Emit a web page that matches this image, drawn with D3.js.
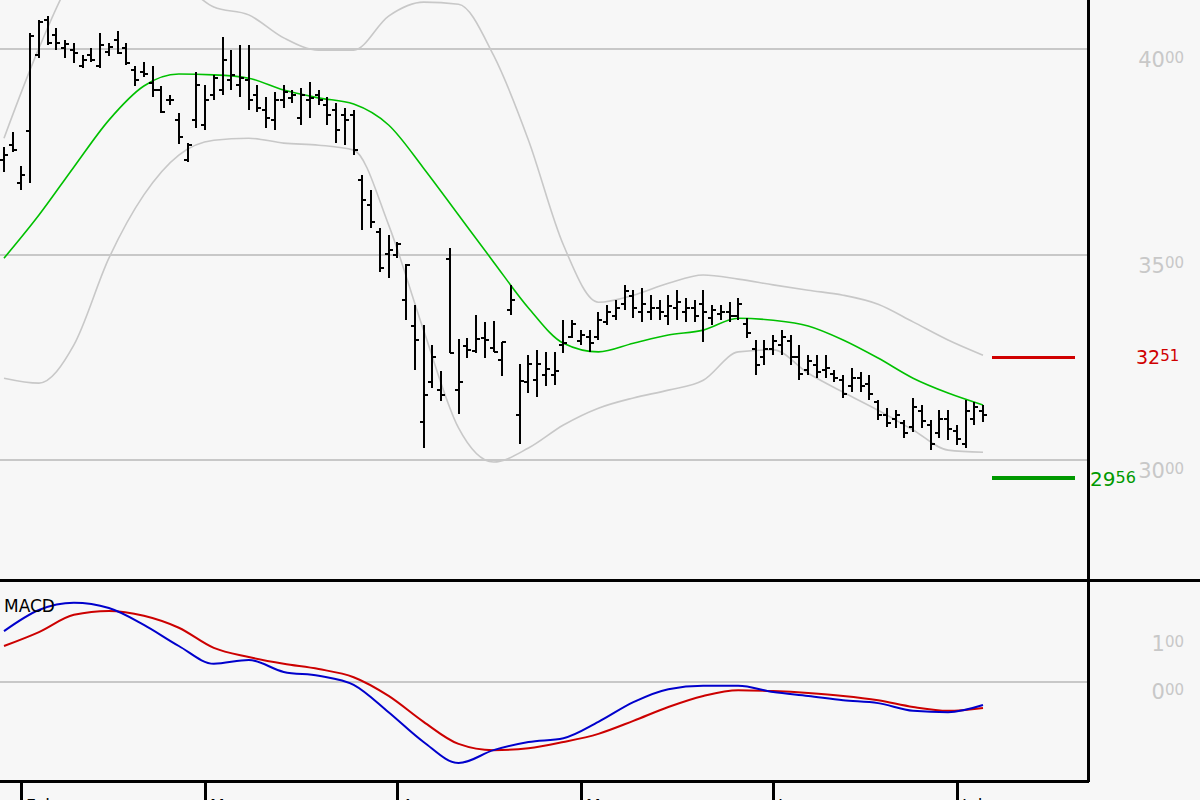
<!DOCTYPE html>
<html>
<head>
<meta charset="utf-8">
<script src="https://cdn.jsdelivr.net/npm/d3@7"></script>
<style>
  body { margin: 0; background: #f7f7f7; overflow: hidden; }
</style>
</head>
<body>
<div id="chart"></div>
<script>
// daily bars
var opens = [3730,3766,3674,3800,3985,4070,4034,4002,3997,3958,3985,3958,3992,4022,4002,3949,3944,3917,3900,3876,3827,3730,
  3827,3815,3888,3900,3924,3912,3924,3888,3851,3827,3876,3881,3832,3876,3888,3864,3851,3839,3839,3681,3620,
  3555,3501,3499,3389,3326,3092,3190,3170,3489,3170,3277,3265,3297,3272,3243,3365,3109,3190,3195,3207,3207,3280,
  3300,3290,3300,3300,3335,3350,3380,3400,3360,3360,3370,3350,3370,3360,3370,3380,3345,3355,3360,3350,3330,3270,
  3250,3270,3280,3290,3250,3220,3230,3220,3210,3195,3180,3200,3185,3140,3110,3100,3090,3080,3120,3085,3065,3100,
  3070,3040,3100,3120];
var highs = [3761,3798,3715,4039,4070,4080,4051,4022,4014,3985,4002,4039,4014,4044,4014,3958,3968,3958,3910,3888,3844,3771,
  3944,3912,3937,4029,3997,4009,4009,3912,3883,3895,3912,3900,3905,3919,3900,3883,3868,3856,3851,3693,3657,
  3564,3547,3530,3477,3377,3328,3280,3216,3516,3294,3297,3353,3336,3338,3287,3426,3233,3255,3268,3263,3263,3340,
  3340,3316,3316,3360,3377,3389,3426,3413,3418,3401,3389,3401,3413,3394,3389,3413,3377,3377,3384,3394,3345,3292,
  3292,3304,3316,3304,3280,3255,3255,3255,3219,3207,3224,3214,3207,3146,3126,3121,3097,3151,3134,3097,3121,3121,
  3085,3146,3141,3134];
var lows = [3700,3749,3657,3674,3978,4009,3997,3978,3966,3954,3968,3954,3983,3988,3961,3910,3932,3883,3844,3864,3769,3725,
  3808,3803,3876,3888,3900,3883,3851,3847,3808,3803,3856,3868,3815,3832,3864,3815,3771,3766,3742,3559,3564,
  3457,3443,3491,3340,3219,3029,3175,3143,3260,3112,3248,3260,3248,3263,3204,3353,3039,3163,3153,3180,3182,3260,
  3297,3280,3263,3292,3328,3340,3365,3345,3336,3340,3340,3328,3340,3336,3336,3287,3328,3340,3336,3340,3297,3207,
  3231,3255,3255,3231,3194,3207,3199,3199,3190,3151,3165,3165,3146,3097,3080,3078,3053,3068,3078,3024,3053,3049,
  3036,3029,3085,3092];
var closes = [3742,3754,3693,4031,4065,4014,4014,4012,3990,3973,3973,4009,4005,3990,3966,3924,3939,3900,3847,3876,3786,3766,
  3912,3876,3929,3973,3937,3929,3876,3856,3832,3876,3895,3888,3888,3881,3876,3839,3803,3827,3754,3633,3579,
  3467,3511,3525,3474,3292,3158,3250,3158,3260,3190,3268,3294,3292,3263,3287,3389,3192,3233,3233,3221,3216,3284,
  3330,3305,3285,3340,3360,3370,3410,3370,3380,3370,3360,3375,3385,3370,3350,3360,3365,3360,3350,3380,3310,3230,
  3270,3290,3300,3250,3210,3240,3215,3225,3200,3160,3200,3180,3160,3110,3090,3110,3065,3130,3095,3040,3100,3075,
  3050,3120,3130,3110];

// indicator lines, sampled every 4 bars
var sampleIdx = [0,4,8,12,16,20,24,28,32,36,40,44,48,52,56,60,64,68,72,76,80,84,88,92,96,100,104,108,112];
var movingAvg = [3491,3596,3713,3827,3910,3939,3937,3929,3900,3881,3866,3815,3710,3596,3482,3370,3284,3263,3284,3304,
  3316,3345,3340,3326,3292,3248,3199,3163,3134];
var upperBand = [3783,4002,4180,4241,4228,4168,4102,4083,4027,3997,3997,4080,4114,4109,3985,3778,3523,3384,3401,3430,
  3450,3440,3426,3413,3401,3379,3336,3292,3255];
var lowerBand = [3199,3187,3280,3491,3645,3742,3778,3783,3771,3766,3754,3572,3316,3078,2995,3029,3085,3126,3151,3170,
  3194,3263,3268,3211,3165,3121,3073,3024,3019];
var macdLine = [1.06,1.50,1.65,1.54,1.19,0.75,0.38,0.46,0.21,0.13,-0.06,-0.63,-1.25,-1.69,-1.42,-1.25,-1.17,-0.83,-0.42,
  -0.15,-0.08,-0.08,-0.21,-0.29,-0.38,-0.44,-0.60,-0.63,-0.48];
var signalLine = [0.75,1.04,1.40,1.48,1.38,1.13,0.71,0.52,0.38,0.27,0.10,-0.29,-0.83,-1.29,-1.42,-1.38,-1.25,-1.08,-0.81,
  -0.52,-0.29,-0.17,-0.19,-0.23,-0.29,-0.38,-0.52,-0.60,-0.54];

var priceTicks = [[4000, "40", "00"], [3500, "35", "00"], [3000, "30", "00"]];
var macdTicks = [[1, "1", "00"], [0, "0", "00"]];
var monthTicks = [2, 23, 45, 66, 88, 109];
var monthLabels = ["Feb", "Mar", "Apr", "May", "Jun", "Jul"];
var levelHigh = [3251, "32", "51"];
var levelLow = [2956, "29", "56"];

var width = 1200, height = 800;
var plotRight = 1088;

var svg = d3.select('#chart').append('svg')
  .attr('width', width)
  .attr('height', height)
  .style('background', '#f7f7f7')
  .style('font-family', '"DejaVu Sans", sans-serif');

var x = d3.scaleLinear().domain([0, opens.length - 1]).range([4, 983]);
var y = d3.scaleLinear().domain([3000, 4000]).range([460, 49]);
var yM = d3.scaleLinear().domain([0, 1]).range([682, 634]);

svg.append('clipPath').attr('id', 'priceClip')
  .append('rect').attr('x', 0).attr('y', 0).attr('width', plotRight).attr('height', 578);

// gridlines
svg.selectAll('.pgrid').data(priceTicks).enter().append('line')
  .attr('x1', 0).attr('x2', plotRight)
  .attr('y1', function(d){ return y(d[0]); }).attr('y2', function(d){ return y(d[0]); })
  .attr('stroke', '#c8c8c8').attr('stroke-width', 2).attr('shape-rendering', 'crispEdges');
svg.append('line')
  .attr('x1', 0).attr('x2', plotRight).attr('y1', yM(0)).attr('y2', yM(0))
  .attr('stroke', '#c8c8c8').attr('stroke-width', 2).attr('shape-rendering', 'crispEdges');

// labels with small trailing digits
function splitLabel(g, xPos, yPos, big, small, color, anchor, bigSize, smallSize) {
  var t = g.append('text')
    .attr('x', xPos).attr('y', yPos)
    .attr('text-anchor', anchor)
    .attr('fill', color)
    .style('font-size', bigSize + 'px');
  t.append('tspan').text(big);
  t.append('tspan').attr('dy', -(bigSize - smallSize) * 0.73).style('font-size', smallSize + 'px').text(small);
}

priceTicks.forEach(function(d){
  splitLabel(svg, 1184, y(d[0]) + 18, d[1], d[2], '#c8c8c8', 'end', 21, 15);
});
macdTicks.forEach(function(d){
  splitLabel(svg, 1184, yM(d[0]) + 17, d[1], d[2], '#c8c8c8', 'end', 21, 15);
});

var price = svg.append('g').attr('clip-path', 'url(#priceClip)');

function sampledLine(vals, scale) {
  return d3.line()
    .x(function(d, i){ return x(sampleIdx[i]); })
    .y(function(d){ return scale(d); })
    .curve(d3.curveMonotoneX)(vals);
}

[upperBand, lowerBand].forEach(function(band){
  price.append('path').attr('d', sampledLine(band, y))
    .attr('fill', 'none').attr('stroke', '#c8c8c8').attr('stroke-width', 1.6);
});
price.append('path').attr('d', sampledLine(movingAvg, y))
  .attr('fill', 'none').attr('stroke', '#00c000').attr('stroke-width', 1.6);

// OHLC bars
var bars = price.selectAll('.bar').data(opens).enter().append('g');
bars.append('line')
  .attr('x1', function(d, i){ return Math.round(x(i)); }).attr('x2', function(d, i){ return Math.round(x(i)); })
  .attr('y1', function(d, i){ return y(highs[i]); }).attr('y2', function(d, i){ return y(lows[i]); })
  .attr('stroke', '#000').attr('stroke-width', 2).attr('shape-rendering', 'crispEdges');
bars.append('line')
  .attr('x1', function(d, i){ return Math.round(x(i)) - 4; }).attr('x2', function(d, i){ return Math.round(x(i)); })
  .attr('y1', function(d){ return y(d); }).attr('y2', function(d){ return y(d); })
  .attr('stroke', '#000').attr('stroke-width', 2).attr('shape-rendering', 'crispEdges');
bars.append('line')
  .attr('x1', function(d, i){ return Math.round(x(i)); }).attr('x2', function(d, i){ return Math.round(x(i)) + 4; })
  .attr('y1', function(d, i){ return y(closes[i]); }).attr('y2', function(d, i){ return y(closes[i]); })
  .attr('stroke', '#000').attr('stroke-width', 2).attr('shape-rendering', 'crispEdges');

// level markers
svg.append('line').attr('x1', 992).attr('x2', 1075)
  .attr('y1', Math.round(y(levelHigh[0]))).attr('y2', Math.round(y(levelHigh[0])))
  .attr('stroke', '#d00000').attr('stroke-width', 3).attr('shape-rendering', 'crispEdges');
svg.append('line').attr('x1', 992).attr('x2', 1075)
  .attr('y1', Math.round(y(levelLow[0]))).attr('y2', Math.round(y(levelLow[0])))
  .attr('stroke', '#009900').attr('stroke-width', 4).attr('shape-rendering', 'crispEdges');
splitLabel(svg, 1136, y(levelHigh[0]) + 7, levelHigh[1], levelHigh[2], '#d00000', 'start', 19, 15);
splitLabel(svg, 1090, y(levelLow[0]) + 8, levelLow[1], levelLow[2], '#009900', 'start', 20, 16);

// MACD panel
svg.append('path').attr('d', sampledLine(signalLine, yM))
  .attr('fill', 'none').attr('stroke', '#cc0000').attr('stroke-width', 2);
svg.append('path').attr('d', sampledLine(macdLine, yM))
  .attr('fill', 'none').attr('stroke', '#0000cc').attr('stroke-width', 2);
svg.append('text').attr('x', 4).attr('y', 612)
  .attr('fill', '#000').style('font-size', '17px').text('MACD');

// frame
svg.append('line').attr('x1', 0).attr('x2', width).attr('y1', 580).attr('y2', 580)
  .attr('stroke', '#000').attr('stroke-width', 3).attr('shape-rendering', 'crispEdges');
svg.append('line').attr('x1', 0).attr('x2', plotRight + 1).attr('y1', 781).attr('y2', 781)
  .attr('stroke', '#000').attr('stroke-width', 3).attr('shape-rendering', 'crispEdges');
svg.append('line').attr('x1', plotRight).attr('x2', plotRight).attr('y1', 0).attr('y2', 782)
  .attr('stroke', '#000').attr('stroke-width', 3).attr('shape-rendering', 'crispEdges');

// month ticks (labels fall just below the window)
var months = svg.selectAll('.month').data(monthTicks).enter().append('g');
months.append('line')
  .attr('x1', function(d){ return Math.round(x(d)); }).attr('x2', function(d){ return Math.round(x(d)); })
  .attr('y1', 781).attr('y2', 800)
  .attr('stroke', '#000').attr('stroke-width', 3).attr('shape-rendering', 'crispEdges');
months.append('text')
  .attr('x', function(d){ return Math.round(x(d)) + 5; }).attr('y', 812)
  .style('font-size', '17px').attr('fill', '#000')
  .text(function(d, i){ return monthLabels[i]; });
</script>
</body>
</html>
